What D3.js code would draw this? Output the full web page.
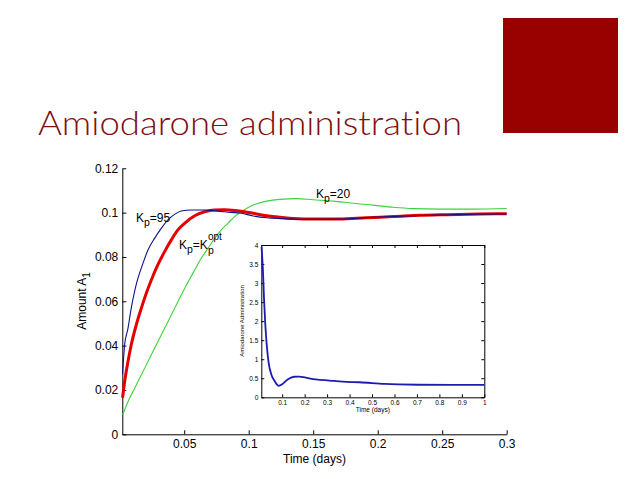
<!DOCTYPE html>
<html>
<head>
<meta charset="utf-8">
<script src="https://cdn.jsdelivr.net/npm/d3@7"></script>
<style>
  body { margin: 0; background: #fff; }
  svg { display: block; }
  text { font-variant-ligatures: none; }
  .axis text { font-family: "Liberation Sans", Arial, sans-serif; fill: #000; }
  .axis path, .axis line { stroke: #000; }
</style>
</head>
<body>
<div id="chart"></div>
<script>
// main plot: amount A1 for three gains
const timeKp95 = [0.0022, 0.0038, 0.0064, 0.0089, 0.0115, 0.0141, 0.018, 0.0219, 0.027, 0.0322, 0.0374, 0.0425, 0.0477, 0.0555, 0.0658, 0.0761, 0.0865, 0.0932, 0.1035, 0.1139, 0.1242, 0.1397, 0.1552, 0.1707, 0.1966, 0.2224, 0.2483, 0.2741, 0.3];
const ampKp95 = [0.027, 0.0403, 0.0478, 0.0568, 0.0644, 0.0703, 0.0771, 0.0831, 0.0884, 0.0929, 0.0967, 0.0992, 0.1007, 0.1012, 0.1012, 0.1007, 0.1001, 0.0998, 0.0985, 0.0977, 0.0973, 0.097, 0.097, 0.0971, 0.0979, 0.0985, 0.0989, 0.0993, 0.0994];

const timeKopt = [0.0022, 0.0038, 0.0064, 0.0089, 0.0128, 0.0167, 0.0206, 0.0245, 0.0296, 0.0348, 0.04, 0.0451, 0.0503, 0.0581, 0.0658, 0.0736, 0.0813, 0.0891, 0.0968, 0.1035, 0.1139, 0.1242, 0.1345, 0.15, 0.1707, 0.1914, 0.2121, 0.2328, 0.2534, 0.2793, 0.3];
const ampKopt = [0.0165, 0.0237, 0.0328, 0.0403, 0.0493, 0.0568, 0.0636, 0.0696, 0.0765, 0.0824, 0.0877, 0.0922, 0.0952, 0.0986, 0.1004, 0.1012, 0.1013, 0.101, 0.1004, 0.0997, 0.0986, 0.0979, 0.0974, 0.0971, 0.0971, 0.0977, 0.0982, 0.0988, 0.0991, 0.0994, 0.0995];

const timeKp20 = [0.0022, 0.0064, 0.0115, 0.0167, 0.0219, 0.027, 0.0322, 0.0374, 0.0425, 0.0477, 0.0529, 0.0581, 0.0632, 0.0684, 0.0736, 0.0787, 0.0839, 0.0891, 0.0942, 0.1035, 0.1139, 0.1242, 0.1371, 0.15, 0.1656, 0.1811, 0.1966, 0.2121, 0.2276, 0.2483, 0.2741, 0.3];
const ampKp20 = [0.0087, 0.0147, 0.0207, 0.0267, 0.0328, 0.0388, 0.0448, 0.0508, 0.0568, 0.0628, 0.0686, 0.0741, 0.0794, 0.0839, 0.0884, 0.0922, 0.0952, 0.0982, 0.1004, 0.1034, 0.1052, 0.106, 0.1063, 0.1058, 0.1052, 0.1042, 0.1034, 0.1024, 0.1018, 0.1016, 0.1016, 0.1019];

const mainXTicks = [0.05, 0.1, 0.15, 0.2, 0.25, 0.3];
const mainYTicks = [0, 0.02, 0.04, 0.06, 0.08, 0.1, 0.12];

// inset: amiodarone administration
const insetTime = [0.008, 0.0144, 0.019, 0.0248, 0.0324, 0.04, 0.052, 0.067, 0.085, 0.1, 0.1225, 0.1527, 0.175, 0.205, 0.25, 0.31, 0.37, 0.445, 0.556, 0.707, 0.857, 1.0];
const insetDose = [3.95, 3.32, 2.61, 1.91, 1.30, 0.90, 0.595, 0.42, 0.30, 0.34, 0.46, 0.54, 0.545, 0.515, 0.47, 0.44, 0.41, 0.395, 0.35, 0.33, 0.325, 0.325];

const insetXTicks = [0.1, 0.2, 0.3, 0.4, 0.5, 0.6, 0.7, 0.8, 0.9, 1];
const insetYTicks = [0, 0.5, 1, 1.5, 2, 2.5, 3, 3.5, 4];

const width = 638;
const height = 479;
const fmt = d3.format('~g');
const sans = '"Liberation Sans", Arial, sans-serif';

const svg = d3.select('#chart')
  .append('svg')
  .attr('width', width)
  .attr('height', height);

// slide title + red block
svg.append('rect')
  .attr('x', 503).attr('y', 18)
  .attr('width', 115).attr('height', 115)
  .attr('fill', '#990000');

svg.append('text')
  .attr('x', 38).attr('y', 135)
  .attr('font-family', 'Lato, "Noto Sans", sans-serif')
  .attr('font-weight', 300)
  .attr('font-size', 33)
  .attr('textLength', 424)
  .attr('lengthAdjust', 'spacingAndGlyphs')
  .attr('fill', '#7f1010')
  .text('Amiodarone administration');

// main axes
const main = { left: 122.3, right: 506.7, top: 168.3, bottom: 434.3 };

const x = d3.scaleLinear().domain([0.002, 0.3]).range([main.left, main.right]);
const y = d3.scaleLinear().domain([0, 0.12]).range([main.bottom, main.top]);

svg.append('g')
  .attr('class', 'axis')
  .attr('transform', `translate(0, ${main.bottom})`)
  .call(d3.axisBottom(x).tickValues(mainXTicks).tickFormat(fmt).tickSize(-4).tickPadding(5).tickSizeOuter(0))
  .call(g => g.selectAll('text').attr('font-size', 12));

svg.append('g')
  .attr('class', 'axis')
  .attr('transform', `translate(${main.left}, 0)`)
  .call(d3.axisLeft(y).tickValues(mainYTicks).tickFormat(fmt).tickSize(-4).tickPadding(4).tickSizeOuter(0))
  .call(g => g.selectAll('text').attr('font-size', 12));

const line = d3.line()
  .x(d => x(d[0]))
  .y(d => y(d[1]))
  .curve(d3.curveMonotoneX);

const series = [
  { t: timeKp20, v: ampKp20, color: '#3dd13d', w: 1.1 },
  { t: timeKopt, v: ampKopt, color: '#e40000', w: 3 },
  { t: timeKp95, v: ampKp95, color: '#10108a', w: 1.1 },
];

svg.append('g')
  .selectAll('path')
  .data(series)
  .join('path')
  .attr('fill', 'none')
  .attr('stroke', d => d.color)
  .attr('stroke-width', d => d.w)
  .attr('stroke-linejoin', 'round')
  .attr('d', d => line(d3.zip(d.t, d.v)));

// curve labels with subscripts
function gainLabel(px, py, rest) {
  const t = svg.append('text')
    .attr('x', px).attr('y', py)
    .attr('font-family', sans)
    .attr('font-size', 12);
  t.append('tspan').text('K');
  t.append('tspan').attr('dy', 4).attr('font-size', 10.5).text('p');
  t.append('tspan').attr('dy', -4).text(rest);
  return t;
}
gainLabel(136, 222, '=95');
gainLabel(316, 198, '=20');
const optLabel = gainLabel(179, 249, '=K');
// the second K carries both p (below) and opt (above)
const kEnd = 179 + optLabel.node().getComputedTextLength();
svg.append('text')
  .attr('x', kEnd).attr('y', 240)
  .attr('font-family', sans).attr('font-size', 10)
  .text('opt');
svg.append('text')
  .attr('x', kEnd).attr('y', 254)
  .attr('font-family', sans).attr('font-size', 10.5)
  .text('p');

svg.append('text')
  .attr('x', (main.left + main.right) / 2)
  .attr('y', 463)
  .attr('text-anchor', 'middle')
  .attr('font-family', sans)
  .attr('font-size', 12)
  .text('Time (days)');

const yl = svg.append('text')
  .attr('transform', `translate(86, 301) rotate(-90)`)
  .attr('text-anchor', 'middle')
  .attr('font-family', sans)
  .attr('font-size', 12);
yl.append('tspan').text('Amount A');
yl.append('tspan').attr('dy', 4).attr('font-size', 10).text('1');

// inset
const inset = { left: 261.3, right: 484.3, top: 245, bottom: 397.3 };

const xi = d3.scaleLinear().domain([0.007, 1]).range([inset.left, inset.right]);
const yi = d3.scaleLinear().domain([0, 4]).range([inset.bottom, inset.top]);

svg.append('rect')
  .attr('x', inset.left).attr('y', inset.top)
  .attr('width', inset.right - inset.left)
  .attr('height', inset.bottom - inset.top)
  .attr('fill', '#fff');

const insetAxis = (g, axis) => g.call(axis).call(s => s.selectAll('text').attr('font-size', 6.5));

svg.append('g').attr('class', 'axis')
  .attr('transform', `translate(0, ${inset.bottom})`)
  .call(insetAxis, d3.axisBottom(xi).tickValues(insetXTicks).tickFormat(fmt).tickSize(-3).tickPadding(3).tickSizeOuter(0));
svg.append('g').attr('class', 'axis')
  .attr('transform', `translate(0, ${inset.top})`)
  .call(insetAxis, d3.axisTop(xi).tickValues(insetXTicks).tickFormat('').tickSize(-3).tickSizeOuter(0));
svg.append('g').attr('class', 'axis')
  .attr('transform', `translate(${inset.left}, 0)`)
  .call(insetAxis, d3.axisLeft(yi).tickValues(insetYTicks).tickFormat(fmt).tickSize(-3).tickPadding(3).tickSizeOuter(0));
svg.append('g').attr('class', 'axis')
  .attr('transform', `translate(${inset.right}, 0)`)
  .call(insetAxis, d3.axisRight(yi).tickValues(insetYTicks).tickFormat('').tickSize(-3).tickSizeOuter(0));

const insetLine = d3.line()
  .x(d => xi(d[0]))
  .y(d => yi(d[1]))
  .curve(d3.curveMonotoneX);

svg.append('path')
  .attr('fill', 'none')
  .attr('stroke', '#1c1cb0')
  .attr('stroke-width', 1.8)
  .attr('d', insetLine(d3.zip(insetTime, insetDose)));

svg.append('text')
  .attr('x', (inset.left + inset.right) / 2)
  .attr('y', 412)
  .attr('text-anchor', 'middle')
  .attr('font-family', sans)
  .attr('font-size', 6.5)
  .text('Time (days)');

svg.append('text')
  .attr('transform', `translate(244, 321) rotate(-90)`)
  .attr('text-anchor', 'middle')
  .attr('font-family', sans)
  .attr('font-size', 6)
  .text('Amiodarone Administration');
</script>
</body>
</html>
